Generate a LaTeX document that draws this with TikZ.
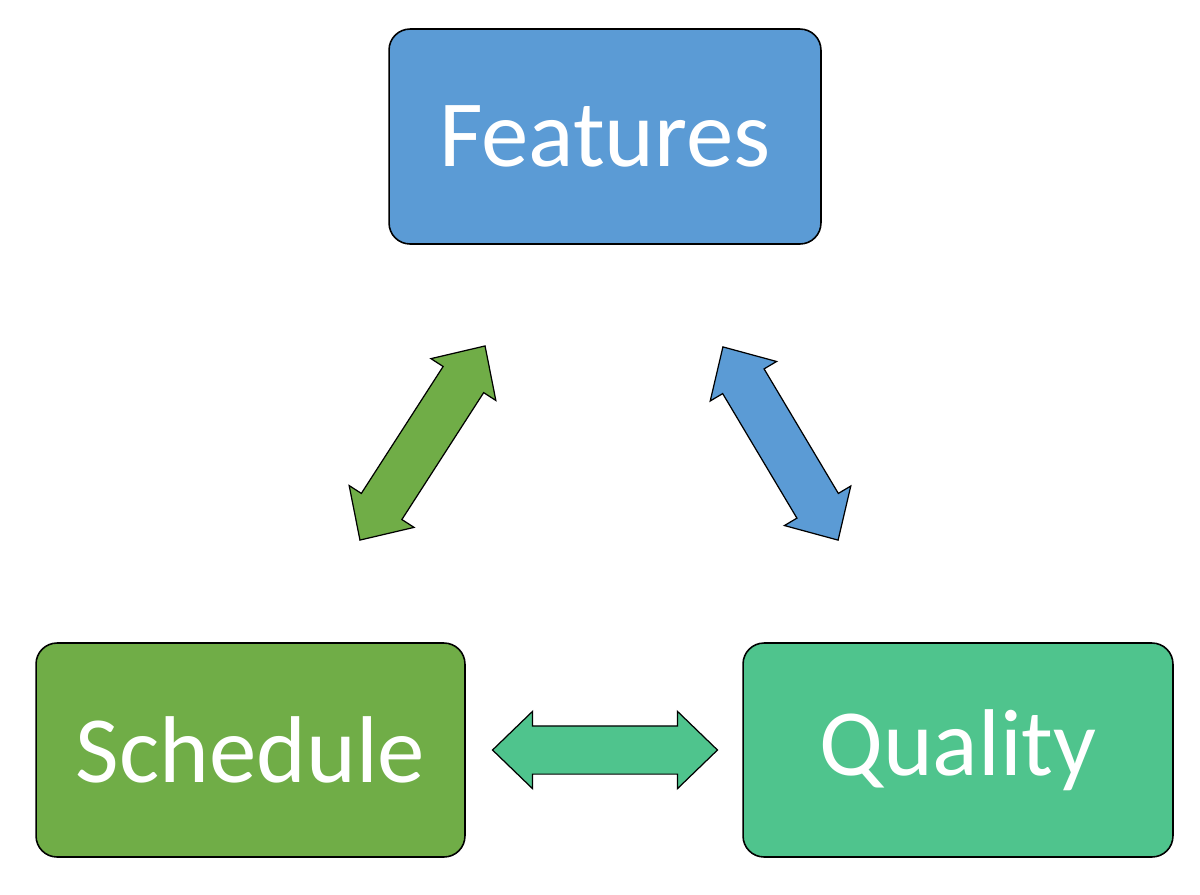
\documentclass[tikz,border=0pt]{standalone}
\usepackage{fontspec}
\setmainfont{Carlito}
\usetikzlibrary{shapes.arrows,positioning}
\definecolor{featblue}{HTML}{5B9BD5}
\definecolor{schedgreen}{HTML}{70AD47}
\definecolor{qualteal}{HTML}{4FC48D}

\begin{document}
\begin{tikzpicture}[x=0.02cm, y=-0.02cm,
    box/.style={draw=black, line width=0.9pt, rounded corners=0.42cm, inner sep=0pt,
      text=white, font=\fontsize{54}{60}\selectfont},
    dblarrow/.style={double arrow, draw=black, line width=0.7pt, inner xsep=0pt, inner ysep=0.47cm,
      double arrow head extend=0.29cm, double arrow tip angle=88}]
  \useasboundingbox (0,0) rectangle (1200,894);
  % the three corners
  \node[box, fill=featblue, minimum width=8.64cm, minimum height=4.3cm] (features) at (605,136.5) {Features};
  \node[box, fill=schedgreen, minimum width=8.58cm, minimum height=4.28cm] (schedule) at (250.5,750) {Schedule};
  \node[box, fill=qualteal, minimum width=8.6cm, minimum height=4.28cm] (quality) at (958,750) {Quality};
  % the block arrows between them
  \node[dblarrow, fill=schedgreen, minimum height=4.62cm, rotate=57.2] (schedfeat) at (422.5,443) {};
  \node[dblarrow, fill=featblue, minimum height=4.5cm, rotate=-59.2] (featqual) at (780.5,443.5) {};
  \node[dblarrow, fill=qualteal, minimum height=4.5cm] (schedqual) at (605,750) {};
\end{tikzpicture}
\end{document}
